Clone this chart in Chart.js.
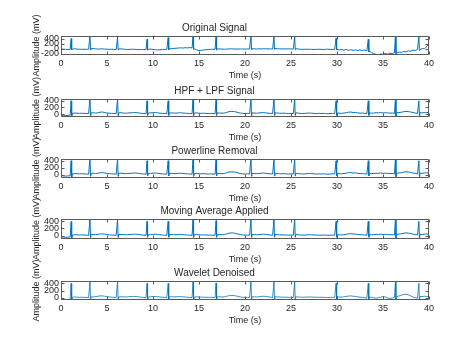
<!DOCTYPE html>
<html><head><meta charset="utf-8">
<script src="https://cdn.jsdelivr.net/npm/chart.js@4.4.1/dist/chart.umd.min.js"></script>
<style>
html,body{margin:0;padding:0;background:#fff;}
#wrap{position:relative;width:474px;height:355px;overflow:hidden;background:#fff;}
canvas{position:absolute;left:0;top:0;}
</style></head><body><div id="wrap">
<canvas id="c0" width="474" height="355"></canvas>
<canvas id="c1" width="474" height="355"></canvas>
<canvas id="c2" width="474" height="355"></canvas>
<canvas id="c3" width="474" height="355"></canvas>
<canvas id="c4" width="474" height="355"></canvas>
</div>
<script>
// ---- data ----
const titles = ['Original Signal', 'HPF + LPF Signal', 'Powerline Removal', 'Moving Average Applied', 'Wavelet Denoised'];
const xLabel = 'Time (s)';
const yLabel = 'Amplitude (mV)';
const xTicks = [0, 5, 10, 15, 20, 25, 30, 35, 40];
const yTicksOriginal = [-200, 0, 200, 400];
const yTicksFiltered = [0, 200, 400];
const sampleStep = 0.25;   // seconds between baseline samples (0 .. 40 s)
const sDelay = 0.06;       // seconds from R peak to S dip
const beatTimes = [1.1, 3.15, 6.15, 9.35, 11.65, 14.35, 16.85, 20.65, 23.15, 25.4, 29.9, 33.4, 36.35, 38.9];

const originalBase = [
  -10,-15,-20,-25,-20,-5,0,-10,-15,-20,-15,-20,-15,5,10,0,-10,-5,0,-10,
  -15,-20,-15,-20,-25,-5,0,-10,-20,-25,-20,-15,-20,-25,-30,-25,-30,-35,-15,-10,
  -25,-35,-40,-35,-30,-25,-20,0,5,15,25,30,40,30,45,35,50,35,0,-40,
  -70,-55,-45,-35,-30,-20,-15,-20,0,-5,-10,-15,-10,-5,0,-5,-10,-5,-10,-5,
  -10,-5,-10,5,0,-5,0,-5,5,0,-5,0,-10,10,5,0,-5,0,-5,0,
  -5,-10,5,-5,-15,-20,-15,-20,-15,-20,-25,-20,-15,-20,-25,-20,-15,-20,-25,-20,
  -20,-40,-25,-50,-30,-55,-35,-60,-40,-65,-40,-70,-45,-75,-90,-140,-190,-215,-235,-200,
  -220,-180,-210,-165,-185,-150,-170,-125,-145,-100,-120,-75,-95,-50,-65,-20,-40,10,0,90,
  180];
const originalPeaks = [400, 520, 462, 373, 437, 520, 462, 520, 462, 462, 423, 373, 520, 475];
const originalDips  = [-40, -40, -40, -50, -40, -20, -50, -30, -20, -30, -40, -110, -190, -60];

const hpfBase = [
  -30,-40,-45,-40,-35,20,30,25,20,25,20,15,10,30,40,30,35,55,60,45,
  30,25,20,15,10,35,40,30,25,30,35,40,45,40,30,20,15,10,30,35,
  40,45,35,25,20,15,10,30,35,30,25,35,40,30,25,20,15,10,30,35,
  25,20,25,20,15,20,15,10,35,30,25,30,50,70,80,75,65,45,30,20,
  15,20,15,35,30,25,30,40,45,35,25,20,15,35,30,25,20,25,20,15,
  20,15,35,30,20,15,20,25,30,25,20,15,20,15,20,15,10,15,20,15,
  30,25,20,30,40,55,60,45,50,35,25,30,20,15,35,25,30,40,35,45,
  30,40,35,25,30,20,40,45,55,70,80,75,60,45,30,20,40,35,45,50,
  40];
const hpfPeaks = [400, 470, 455, 400, 400, 470, 420, 470, 440, 440, 400, 400, 480, 400];
const hpfDips  = [-80, -50, -50, -40, -40, -50, -40, -50, -40, -40, -40, -40, -60, -60];

const powerlineBase = [
  -30,-40,-45,-40,-35,20,30,25,20,25,20,15,10,30,40,30,35,50,55,45,
  30,25,20,15,10,35,40,30,25,30,35,40,45,40,30,20,15,10,30,35,
  40,45,35,25,20,15,10,30,35,30,25,35,40,30,25,20,15,10,30,35,
  25,20,25,20,15,20,15,10,35,30,25,30,50,70,80,75,65,45,30,20,
  15,20,15,35,30,25,30,40,45,35,25,20,15,35,30,25,20,25,20,15,
  20,15,35,30,20,15,20,25,30,25,20,15,20,15,20,15,10,15,20,15,
  30,25,20,30,40,55,60,45,50,35,25,30,20,15,35,25,30,40,35,45,
  30,40,35,25,30,20,40,45,55,70,80,75,60,45,30,20,40,35,45,50,
  40];
const powerlinePeaks = [400, 470, 455, 400, 400, 470, 420, 470, 440, 440, 400, 400, 480, 400];
const powerlineDips  = [-80, -50, -50, -40, -40, -50, -40, -50, -40, -40, -40, -40, -60, -60];

const movingAvgBase = [
  -30,-38,-42,-40,-35,18,28,25,22,22,20,15,12,28,38,32,35,48,52,45,
  32,25,20,15,12,32,38,32,28,30,35,40,42,38,30,22,15,12,28,35,
  38,42,35,28,20,15,12,28,32,30,28,32,38,32,25,20,15,12,28,32,
  25,22,22,20,18,18,15,12,32,30,28,30,48,68,78,75,62,45,30,22,
  18,18,15,32,30,28,30,38,42,35,28,20,15,32,30,25,22,22,20,18,
  18,15,32,28,20,18,20,25,28,25,20,18,18,15,18,15,12,15,18,15,
  28,25,22,28,38,52,58,48,45,35,28,28,20,15,32,25,30,38,35,42,
  32,38,35,28,28,22,38,45,55,68,78,72,60,45,30,22,38,35,42,48,
  40];
const movingAvgPeaks = [390, 465, 450, 395, 395, 465, 415, 465, 435, 435, 395, 395, 475, 395];
const movingAvgDips  = [-75, -45, -45, -40, -40, -45, -40, -45, -40, -40, -40, -40, -55, -55];

const waveletBase = [
  -40,-50,-55,-50,-40,10,20,15,10,12,10,8,5,15,25,30,40,50,50,40,
  30,20,15,10,5,20,25,25,20,25,30,35,35,30,20,12,8,5,20,25,
  30,35,30,20,12,8,5,20,25,25,25,30,30,25,18,12,8,5,20,25,
  20,15,15,12,10,10,8,5,25,25,20,25,40,55,60,60,50,35,20,12,
  8,8,5,25,25,20,25,35,40,35,25,15,8,25,25,20,15,15,12,10,
  10,5,25,20,15,12,15,18,20,18,15,12,12,10,10,8,5,8,10,8,
  20,20,15,25,35,45,50,40,35,25,15,10,0,-10,20,10,-5,-15,0,15,
  30,20,-10,-20,-10,10,30,50,70,90,95,80,50,20,0,-15,30,35,40,35,
  30];
const waveletPeaks = [400, 460, 460, 400, 400, 450, 410, 460, 440, 440, 400, 400, 470, 400];
const waveletDips  = [-60, -55, -55, -50, -50, -55, -50, -55, -50, -50, -50, -50, -60, -60];

// ---- layout / style (not data) ----
const panels = [
  {top: 36, bottom: 55, min: -240, max: 500, yTicks: yTicksOriginal, base: originalBase, peaks: originalPeaks, dips: originalDips, lw: 1},
  {top: 99, bottom: 117, min: -90, max: 455, yTicks: yTicksFiltered, base: hpfBase, peaks: hpfPeaks, dips: hpfDips, lw: 1},
  {top: 159, bottom: 178, min: -100, max: 450, yTicks: yTicksFiltered, base: powerlineBase, peaks: powerlinePeaks, dips: powerlineDips, lw: 1},
  {top: 219, bottom: 239, min: -90, max: 460, yTicks: yTicksFiltered, base: movingAvgBase, peaks: movingAvgPeaks, dips: movingAvgDips, lw: 1},
  {top: 281, bottom: 300, min: -64, max: 464, yTicks: yTicksFiltered, base: waveletBase, peaks: waveletPeaks, dips: waveletDips, lw: 0.8}
];
const FONT = '"Liberation Sans", Arial, Helvetica, sans-serif';
const TEXT = '#262626';
const LINE = '#0072BD';
const PLOT_LEFT = 61, PLOT_RIGHT = 429, W = 474, H = 355;
const X_AXIS_H = 26.4, TITLE_H = 14;

function buildPoints(base, peaks, dips) {
  const pts = [];
  let b = 0;
  for (let i = 0; i < base.length; i++) {
    const t = i * sampleStep;
    while (b < beatTimes.length && beatTimes[b] < t) {
      pts.push({x: beatTimes[b], y: peaks[b]});
      pts.push({x: beatTimes[b] + sDelay, y: dips[b]});
      b++;
    }
    pts.push({x: t, y: base[i]});
  }
  return pts;
}

const boxPlugin = {
  id: 'matlabBox',
  afterDatasetsDraw(chart) {
    const {ctx, chartArea: a, scales} = chart;
    const x = scales.x, y = scales.y;
    const L = Math.round(a.left) + 0.5, R = Math.round(a.right) - 0.5;
    const T = Math.round(a.top) + 0.5, B = Math.round(a.bottom) - 0.5;
    ctx.save();
    ctx.strokeStyle = '#5a5a5a';
    ctx.lineWidth = 1;
    ctx.beginPath();
    ctx.rect(L, T, R - L, B - T);
    x.ticks.forEach(t => {
      const px = Math.round(x.getPixelForValue(t.value)) + 0.5;
      ctx.moveTo(px, B); ctx.lineTo(px, B - 3);
      ctx.moveTo(px, T); ctx.lineTo(px, T + 3);
    });
    y.ticks.forEach(t => {
      const py = Math.round(y.getPixelForValue(t.value)) + 0.5;
      ctx.moveTo(L, py); ctx.lineTo(L + 3, py);
      ctx.moveTo(R, py); ctx.lineTo(R - 3, py);
    });
    ctx.stroke();
    ctx.restore();
  }
};

panels.forEach((p, i) => {
  new Chart(document.getElementById('c' + i), {
    type: 'line',
    data: {
      datasets: [{
        data: buildPoints(p.base, p.peaks, p.dips),
        borderColor: LINE,
        borderWidth: p.lw,
        pointRadius: 0,
        tension: 0,
        fill: false
      }]
    },
    options: {
      responsive: false,
      animation: false,
      devicePixelRatio: 1,
      events: [],
      layout: {padding: {top: p.top - TITLE_H, bottom: H - p.bottom - X_AXIS_H, left: 0, right: W - PLOT_RIGHT}},
      plugins: {
        legend: {display: false},
        tooltip: {enabled: false},
        title: {display: true, text: titles[i], color: TEXT, font: {family: FONT, size: 10, weight: 'normal', lineHeight: 1.2}, padding: {top: 0, bottom: 2}}
      },
      scales: {
        x: {
          type: 'linear', position: 'bottom', min: 0, max: 40,
          grid: {display: false, drawTicks: false},
          border: {display: false},
          afterBuildTicks: s => { s.ticks = xTicks.map(v => ({value: v})); },
          ticks: {color: TEXT, font: {family: FONT, size: 9}, padding: 3, maxRotation: 0, autoSkip: false},
          title: {display: true, text: xLabel, color: TEXT, font: {family: FONT, size: 9, lineHeight: 1.2}, padding: 0},
          afterFit: s => { s.height = X_AXIS_H; s.paddingLeft = 0; s.paddingRight = 0; }
        },
        y: {
          type: 'linear', position: 'left', min: p.min, max: p.max,
          grid: {display: false, drawTicks: false},
          border: {display: false},
          afterBuildTicks: s => { s.ticks = p.yTicks.map(v => ({value: v})); },
          ticks: {color: TEXT, font: {family: FONT, size: 9}, padding: 2, autoSkip: false},
          title: {display: true, text: yLabel, color: TEXT, font: {family: FONT, size: 9, lineHeight: 1.2}, padding: {top: 31.6, bottom: 0}},
          afterFit: s => { s.width = PLOT_LEFT; s.paddingTop = 0; s.paddingBottom = 0; }
        }
      }
    },
    plugins: [boxPlugin]
  });
});
</script></body></html>
